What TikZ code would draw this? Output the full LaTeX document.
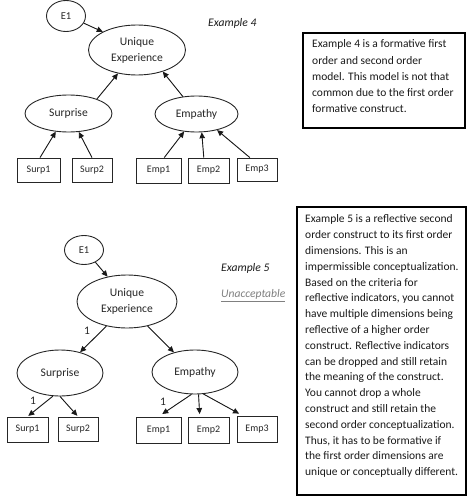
\documentclass[tikz,border=0pt]{standalone}
\usepackage{fontspec}
\setmainfont{Carlito}
\usetikzlibrary{shapes.geometric,arrows.meta}
\begin{document}
\begin{tikzpicture}[x=1pt,y=-1pt,
  lat/.style={ellipse,draw=black!85,line width=0.9pt,inner sep=0pt,font=\fontsize{11.6}{16}\selectfont,align=center,text=black!85},
  ind/.style={rectangle,draw=black!85,line width=0.9pt,inner sep=0pt,font=\fontsize{10}{11}\selectfont,text=black!85},
  err/.style={ellipse,draw=black!85,line width=0.9pt,inner sep=0pt,font=\fontsize{10.5}{12}\selectfont,text=black!85},
  arr/.style={-{Triangle[length=6pt,width=5.5pt]},line width=0.9pt,draw=black!90,fill=black!90},
  note/.style={draw=black,line width=1.7pt,inner sep=0pt},
  notetext/.style={inner sep=0pt,anchor=north west,align=left,font=\fontsize{11.5}{16.2}\selectfont,text=black!90},
  lbl/.style={inner sep=0pt,anchor=base west,font=\fontsize{11.6}{14}\selectfont\itshape,text=black!90},
  one/.style={inner sep=0pt,font=\fontsize{11.5}{13}\selectfont,text=black!85}
]
\useasboundingbox (0,0) rectangle (474,503);

% ---------- Example 4 ----------
\node[err,minimum width=39pt,minimum height=31pt] (e1a) at (66,16) {E1};
\node[lat,minimum width=97pt,minimum height=50pt] (uea) at (137,50) {Unique\\Experience};
\node[lat,minimum width=87pt,minimum height=37pt] (sura) at (68.5,113.5) {Surprise};
\node[lat,minimum width=83pt,minimum height=36pt] (empa) at (196.5,114) {Empathy};
\node[ind,minimum width=43pt,minimum height=24pt] (s1a) at (38.5,170) {Surp1};
\node[ind,minimum width=40pt,minimum height=24pt] (s2a) at (92,170) {Surp2};
\node[ind,minimum width=45pt,minimum height=25pt] (m1a) at (158.5,170.5) {Emp1};
\node[ind,minimum width=41pt,minimum height=25pt] (m2a) at (208.5,170.5) {Emp2};
\node[ind,minimum width=40pt,minimum height=23pt] (m3a) at (257,169.5) {Emp3};

\draw[arr] (e1a.-22.4) -- (uea.152.9);
\draw[arr] (sura.27) -- (uea.231.3);
\draw[arr] (empa.128.5) -- (uea.-40.8);
\draw[arr] (s1a.83) -- (sura.235.3);
\draw[arr] (s2a.north) -- (sura.-61.7);
\draw[arr] (m1a.66) -- (empa.235.2);
\draw[arr] (m2a.110) -- (empa.-74.6);
\draw[arr] (m3a.121) -- (empa.-38.3);

\node[lbl] (ex4) at (208,27) {Example 4};

\node[note,minimum width=162pt,minimum height=95pt] (box1) at (384,80.5) {};
\node[notetext] (txt1) at (312,36.4) {\strut Example 4 is a formative first\\order and second order\\model. This model is not that\\common due to the first order\\formative construct.};

% ---------- Example 5 ----------
\node[err,minimum width=39pt,minimum height=29pt] (e1b) at (84,250) {E1};
\node[lat,minimum width=100pt,minimum height=53pt] (ueb) at (127,301.5) {Unique\\Experience};
\node[lat,minimum width=86pt,minimum height=46pt] (surb) at (60,373) {Surprise};
\node[lat,minimum width=86pt,minimum height=44pt] (empb) at (195,372) {Empathy};
\node[ind,minimum width=41pt,minimum height=25pt] (s1b) at (27.5,429.5) {Surp1};
\node[ind,minimum width=40pt,minimum height=24pt] (s2b) at (78,429) {Surp2};
\node[ind,minimum width=45pt,minimum height=26pt] (m1b) at (158.5,430) {Emp1};
\node[ind,minimum width=41pt,minimum height=26pt] (m2b) at (208.5,430) {Emp2};
\node[ind,minimum width=40pt,minimum height=26pt] (m3b) at (257,429) {\raisebox{1.5pt}{Emp3}};

\draw[arr] (e1b.-47.3) -- (ueb.128.7);
\draw[arr] (ueb.230.5) -- (surb.46.3);
\draw[arr] (ueb.-50.5) -- (empb.137.6);
\draw[arr,shorten >=1pt] (surb.253) -- (s1b.north);
\draw[arr,shorten >=1pt] (surb.south) -- (s2b.north);
\draw[arr,shorten >=4.5pt] (empb.261.9) -- (m1b.north);
\draw[arr,shorten >=2.5pt] (empb.-81.9) -- (m2b.123.2);
\draw[arr,shorten >=4pt] (empb.-69.1) -- (m3b.137);

\node[one] (l1) at (87,331) {1};
\node[one] (l2) at (33,401) {1};
\node[one] (l3) at (163,402) {1};

\node[lbl] (ex5) at (221,271.7) {Example 5};
\node[lbl,text=black!50] (unacc) at (221,297.7) {\underline{Unacceptable}};

\node[note,minimum width=169pt,minimum height=288pt] (box2) at (381.5,351) {};
\node[notetext,font=\fontsize{11.5}{15.8}\selectfont] (txt2) at (305,211.6) {\strut Example 5 is a reflective second\\order construct to its first order\\dimensions. This is an\\impermissible conceptualization.\\Based on the criteria for\\reflective indicators, you cannot\\have multiple dimensions being\\reflective of a higher order\\construct. Reflective indicators\\can be dropped and still retain\\the meaning of the construct.\\You cannot drop a whole\\construct and still retain the\\second order conceptualization.\\Thus, it has to be formative if\\the first order dimensions are\\unique or conceptually different.};
\end{tikzpicture}
\end{document}
